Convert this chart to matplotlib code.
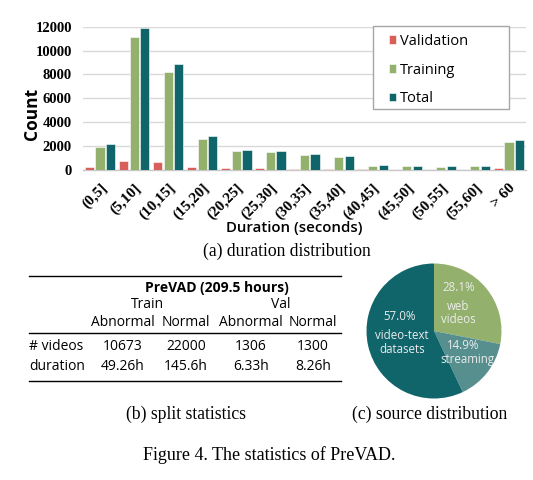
import matplotlib
matplotlib.use('Agg')
import matplotlib.pyplot as plt
from matplotlib.patches import Patch, Rectangle
from matplotlib.lines import Line2D
import matplotlib.transforms as mtrans
import numpy as np

# 数据
bins = ['(0,5]', '(5,10]', '(10,15]', '(15,20]', '(20,25]', '(25,30]', '(30,35]',
        '(35,40]', '(40,45]', '(45,50]', '(50,55]', '(55,60]', '> 60']
validation = [250, 780, 700, 250, 140, 140, 80, 80, 50, 40, 30, 30, 170]
training = [1930, 11150, 8210, 2600, 1560, 1510, 1260, 1060, 335, 335, 250, 335, 2350]
total = [2200, 11930, 8910, 2820, 1680, 1590, 1340, 1170, 420, 335, 300, 335, 2510]
series_names = ['Validation', 'Training', 'Total']
y_ticks = [0, 2000, 4000, 6000, 8000, 10000, 12000]

table_cols = ['Abnormal', 'Normal', 'Abnormal', 'Normal']
table_rows = ['# videos', 'duration']
table_vals = [['10673', '22000', '1306', '1300'],
              ['49.26h', '145.6h', '6.33h', '8.26h']]

source_names = ['web\nvideos', 'streaming', 'video-text\ndatasets']
source_share = [28.1, 14.9, 57.0]

RED = '#D9605A'
GREEN = '#93B06D'
TEAL = '#10656B'
TEAL_LIGHT = '#568F8E'

SERIF = 'Liberation Serif'
SANS = 'Open Sans'

W, H = 533, 480
fig = plt.figure(figsize=(W / 100, H / 100), dpi=100)


def fx(x):
    return x / W


def fy(y):
    return 1 - y / H


# (a) 时长分布柱状图
ax = fig.add_axes([fx(83), fy(170), fx(526) - fx(83), fy(26.7) - fy(170)])
x = np.arange(len(bins))
bw = 0.27
step = 0.31
for i, (vals, col) in enumerate(zip([validation, training, total], [RED, GREEN, TEAL])):
    ax.bar(x + (i - 1) * step, vals, width=bw, color=col, edgecolor='white',
           linewidth=0.4, zorder=3)
ax.set_xlim(-0.5, len(bins) - 0.5)
ax.set_ylim(0, 12000)
ax.set_yticks(y_ticks)
ax.set_yticklabels([str(v) for v in y_ticks], fontfamily=SERIF, fontweight='bold',
                   fontsize=10.5)
ax.set_xticks(x)
ax.set_xticklabels(bins, fontfamily=SERIF, fontweight='bold', fontsize=11,
                   rotation=45, ha='right', va='top', rotation_mode='anchor')
offset = mtrans.ScaledTranslation(5 / 100, 0, fig.dpi_scale_trans)
for lab in ax.get_xticklabels():
    lab.set_transform(lab.get_transform() + offset)
ax.tick_params(axis='both', length=0)
ax.tick_params(axis='y', pad=8)
ax.tick_params(axis='x', pad=8)
ax.grid(axis='y', color='#d9d9d9', linewidth=1.0, zorder=0)
for s in ['top', 'right', 'left']:
    ax.spines[s].set_visible(False)
ax.spines['bottom'].set_color('#c8c8c8')
ax.spines['bottom'].set_linewidth(1.0)

fig.text(fx(32), fy(114), 'Count', rotation=90, ha='center', va='center',
         fontfamily=SANS, fontweight='bold', fontsize=12.5)
fig.text(fx(294), fy(228), 'Duration (seconds)', ha='center', va='center',
         fontfamily=SANS, fontweight='semibold', fontsize=10.8)

# 图例
fig.patches.append(Rectangle((fx(373), fy(109)), fx(509) - fx(373), fy(25.7) - fy(109),
                             transform=fig.transFigure, facecolor='white',
                             edgecolor='#a6a6a6', linewidth=1.0, zorder=5))
handles = [Patch(facecolor=c, edgecolor='white', linewidth=0.4) for c in [RED, GREEN, TEAL]]
fig.legend(handles, series_names, loc='upper left', bbox_to_anchor=(fx(377), fy(22)),
           frameon=False, prop={'family': SANS, 'size': 10.5},
           handlelength=0.5, handleheight=0.5, handletextpad=0.25,
           labelspacing=0.95, borderpad=0.3)

fig.text(fx(287), fy(251), '(a) duration distribution', ha='center', va='center',
         fontfamily=SERIF, fontsize=12.7)

# (b) 划分统计表
tfont = dict(fontfamily=SANS, fontsize=10, ha='center', va='center')
x0, x1 = 29, 341
for yy in [276, 333, 381]:
    fig.add_artist(Line2D([fx(x0), fx(x1)], [fy(yy), fy(yy)], color='black',
                          linewidth=1.0, transform=fig.transFigure))
fig.text(fx(217), fy(288), 'PreVAD (209.5 hours)', fontweight='bold', **tfont)
fig.text(fx(147), fy(305), 'Train', **tfont)
fig.text(fx(281), fy(305), 'Val', **tfont)
col_x = [123, 186, 251, 313]
for cx, name in zip(col_x, table_cols):
    fig.text(fx(cx), fy(322), name, **tfont)
row_y = [346, 367]
for ry, rname, rvals in zip(row_y, table_rows, table_vals):
    fig.text(fx(x0), fy(ry), rname, fontfamily=SANS, fontsize=10, ha='left', va='center')
    for cx, v in zip(col_x, rvals):
        fig.text(fx(cx), fy(ry), v, **tfont)
fig.text(fx(186), fy(414), '(b) split statistics', ha='center', va='center',
         fontfamily=SERIF, fontsize=12.7)

# (c) 来源分布饼图
r = 67.5
pax = fig.add_axes([fx(434 - r), fy(331 + r), 2 * r / W, 2 * r / H])
pax.pie(source_share, colors=[GREEN, TEAL_LIGHT, TEAL], startangle=90,
        counterclock=False, wedgeprops=dict(linewidth=0))
pax.set_xlim(-1, 1)
pax.set_ylim(-1, 1)
pax.set_aspect('equal')
pax.axis('off')
# 标签位置（饼图坐标，半径=1）
pct_pos = [(0.37, 0.64), (0.44, -0.21), (-0.51, 0.21)]
name_pos = [(0.36, 0.27), (0.50, -0.42), (-0.47, -0.17)]
pfont = dict(fontfamily=SANS, fontsize=8.3, color='#ececec', ha='center', va='center',
             linespacing=1.05)
for share, name, pp, npos in zip(source_share, source_names, pct_pos, name_pos):
    pax.text(pp[0], pp[1], f'{share:.1f}%', **pfont)
    pax.text(npos[0], npos[1], name, **pfont)
fig.text(fx(430), fy(414), '(c) source distribution', ha='center', va='center',
         fontfamily=SERIF, fontsize=12.7)

fig.text(fx(269), fy(455), 'Figure 4. The statistics of PreVAD.', ha='center',
         va='center', fontfamily=SERIF, fontsize=13)

fig.savefig('out.png', dpi=100)
